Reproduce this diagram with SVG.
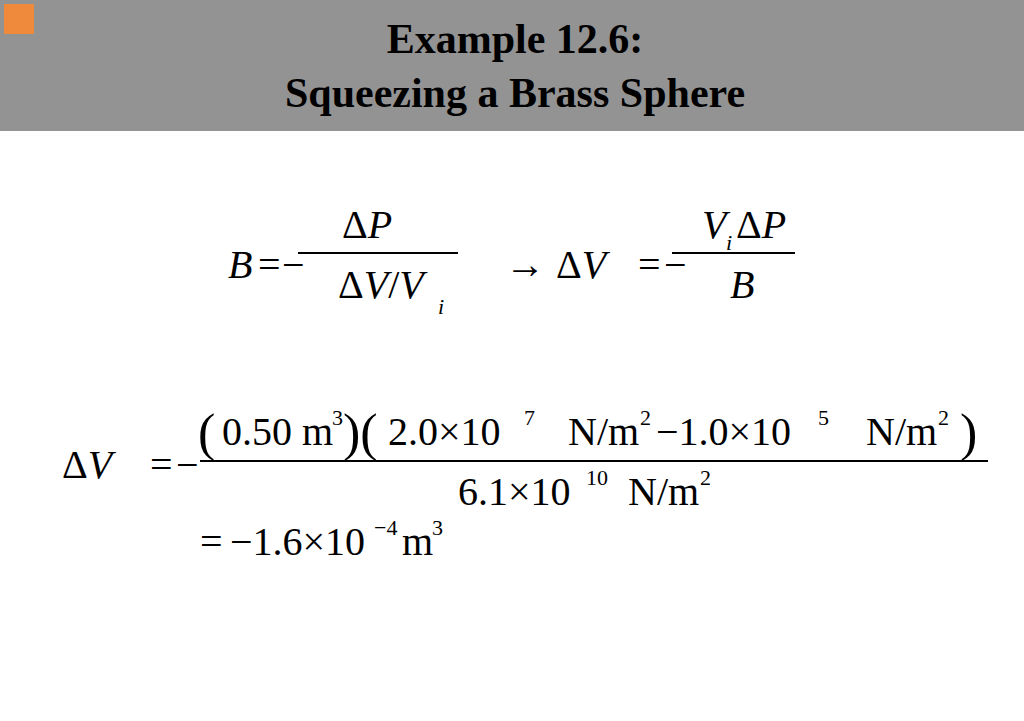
<svg xmlns="http://www.w3.org/2000/svg" width="1024" height="721" viewBox="0 0 1024 721">
<style>
.t{font-family:"Liberation Serif","Times New Roman",serif;font-size:40px;fill:#000}
.i{font-style:italic}
.s{font-size:22px}
.h{font-family:"Liberation Serif",serif;font-weight:bold;font-size:42px;fill:#000;text-anchor:middle}
.p{font-size:52px}
</style>
<rect width="1024" height="721" fill="#fff"/>
<rect width="1024" height="131" fill="#939393"/>
<rect x="4" y="4" width="30" height="30" fill="#ef8a3c"/>
<text class="h" x="515" y="53">Example 12.6:</text>
<text class="h" x="515" y="107">Squeezing a Brass Sphere</text>
<g id="eq1">
<text class="t i" x="228" y="278">B</text>
<text class="t" x="258" y="278">=</text>
<text class="t" x="282" y="278">−</text>
<line x1="298" y1="253" x2="458" y2="253" stroke="#000" stroke-width="2"/>
<text class="t" x="342" y="238">Δ<tspan class="i">P</tspan></text>
<text class="t" x="338" y="298">Δ<tspan class="i">V</tspan>/<tspan class="i">V</tspan></text>
<text class="t i s" x="438" y="314">i</text>
<text class="t" x="505" y="278">→</text>
<text class="t" x="556" y="278">Δ<tspan class="i">V</tspan></text>
<text class="t" x="638" y="278">=</text>
<text class="t" x="664" y="278">−</text>
<line x1="672" y1="253" x2="795" y2="253" stroke="#000" stroke-width="2"/>
<text class="t i" x="702" y="238">V</text>
<text class="t i s" x="726" y="250">i</text>
<text class="t" x="736" y="238">Δ<tspan class="i">P</tspan></text>
<text class="t i" x="730" y="298">B</text>
</g>
<g id="eq2">
<text class="t" x="62" y="478">Δ<tspan class="i">V</tspan></text>
<text class="t" x="150" y="478">=</text>
<text class="t" x="176" y="478">−</text>
<line x1="200" y1="461" x2="988" y2="461" stroke="#000" stroke-width="2"/>
<text class="t p" x="198" y="450">(</text>
<text class="t" x="222" y="445">0.50 m</text>
<text class="t s" x="332" y="425">3</text>
<text class="t p" x="343" y="450">)(</text>
<text class="t" x="388" y="445">2.0×10</text>
<text class="t s" x="524" y="425">7</text>
<text class="t" x="568" y="445">N/m</text>
<text class="t s" x="640" y="425">2</text>
<text class="t" x="656" y="445">−1.0×10</text>
<text class="t s" x="818" y="425">5</text>
<text class="t" x="866" y="445">N/m</text>
<text class="t s" x="938" y="425">2</text>
<text class="t p" x="960" y="450">)</text>
<text class="t" x="458" y="505">6.1×10</text>
<text class="t s" x="586" y="485">10</text>
<text class="t" x="628" y="505">N/m</text>
<text class="t s" x="700" y="485">2</text>
<text class="t" x="200" y="555">=</text>
<text class="t" x="230" y="555">−1.6×10</text>
<text class="t s" x="374" y="535">−4</text>
<text class="t" x="402" y="555">m</text>
<text class="t s" x="432" y="535">3</text>
</g>
</svg>
